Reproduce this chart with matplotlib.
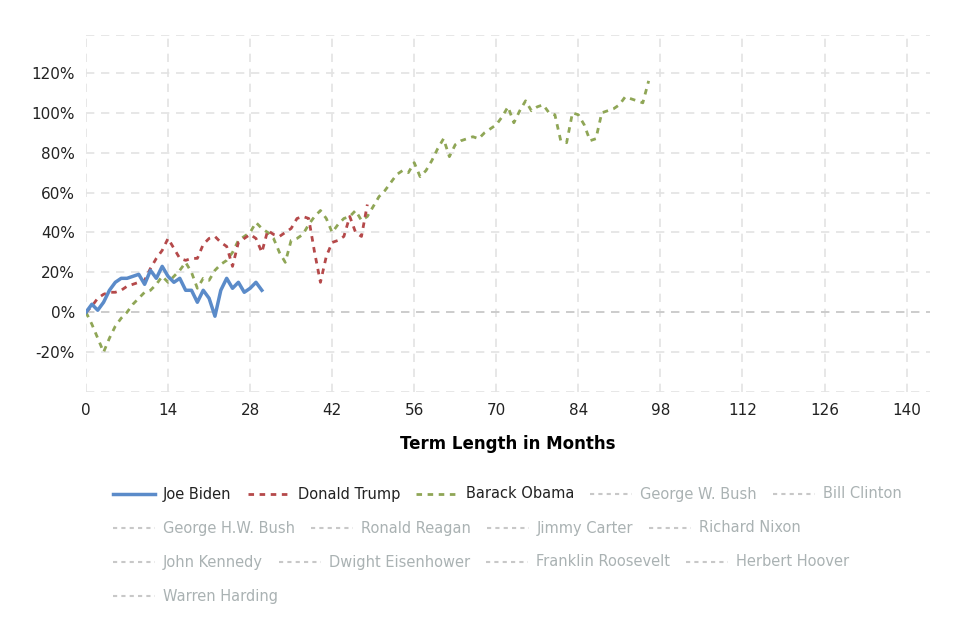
import matplotlib
matplotlib.use("Agg")
import matplotlib.pyplot as plt
from matplotlib.lines import Line2D

biden = [0,4,1,5,11,15,17,17,18,19,14,21,17,23,18,15,17,11,11,5,11,7,-2,11,17,12,15,10,12,15,11]
trump = [0,3,7,9,10,10,11,13,14,15,16,22,27,31,37,32,27,26,27,27,34,37,38,35,33,23,35,37,39,37,30,41,39,38,40,42,47,48,47,30,15,28,35,36,38,48,40,38,54]
obama = [0,-6,-13,-20,-13,-7,-3,0,4,7,10,11,14,18,15,18,21,25,20,12,17,16,21,24,26,30,36,38,40,45,
         42,40,37,30,25,36,37,39,44,48,51,47,40,44,47,48,51,46,48,53,58,61,65,69,71,70,75,68,71,76,
         82,87,78,84,86,87,88,87,90,92,94,98,103,95,101,106,101,103,104,100,99,86,85,100,99,94,86,87,100,101,
         102,104,108,107,106,105,116]
xticks = [0,14,28,42,56,70,84,98,112,126,140]
yticks = [-20,0,20,40,60,80,100,120]
legend_rows = [["Joe Biden","Donald Trump","Barack Obama","George W. Bush","Bill Clinton"],
               ["George H.W. Bush","Ronald Reagan","Jimmy Carter","Richard Nixon"],
               ["John Kennedy","Dwight Eisenhower","Franklin Roosevelt","Herbert Hoover"],
               ["Warren Harding"]]

W,H = 975,625
fig = plt.figure(figsize=(9.75,6.25), dpi=100)
ax = fig.add_axes([86/W, 1-392/H, (930-86)/W, (392-35)/H])
ax.set_xlim(0,144); ax.set_ylim(-40,139)
for s in ax.spines.values(): s.set_visible(False)
ax.set_xticks(xticks); ax.set_yticks(yticks)
ax.set_yticklabels([f"{v}%" for v in yticks])
ax.tick_params(length=0, labelsize=11, colors="#222222", pad=8)
for v in yticks+[-40,139]:
    ax.axhline(v, color="#e3e3e3", lw=1.2, ls=(0,(5,4)), zorder=0)
for v in xticks:
    ax.axvline(v, color="#e3e3e3", lw=1.2, ls=(0,(5,4)), zorder=0)
ax.axhline(0, color="#c8c8c8", lw=1.2, ls=(0,(5,4)), zorder=1)
ax.plot(range(len(obama)), obama, color="#8fa656", lw=2, ls=(0,(2,2)))
ax.plot(range(len(trump)), trump, color="#b5494a", lw=2, ls=(0,(2,2)))
ax.plot(range(len(biden)), biden, color="#5b8bc9", lw=2.5)
ax.set_xlabel("Term Length in Months", fontsize=12, fontweight="bold", labelpad=12)

styles = {"Joe Biden":("#5b8bc9","-",2.5,"#222222"),
          "Donald Trump":("#b5494a",(0,(2,2)),2,"#222222"),
          "Barack Obama":("#8fa656",(0,(2,2)),2,"#222222")}
ys = [494,528,562,596]
r = fig.canvas.get_renderer()
for row,yp in zip(legend_rows,ys):
    x = 113
    for name in row:
        c,ls,lw,tc = styles.get(name,("#c8c8c8",(0,(2,2)),1.5,"#aab2b3"))
        fig.add_artist(Line2D([x/W,(x+42)/W],[1-yp/H]*2, color=c, ls=ls, lw=lw))
        t = fig.text((x+50)/W, 1-yp/H, name, fontsize=10.5, color=tc, va="center")
        w = t.get_window_extent(renderer=r).width
        x += 50 + w + 16
fig.savefig("out.png", dpi=100)
